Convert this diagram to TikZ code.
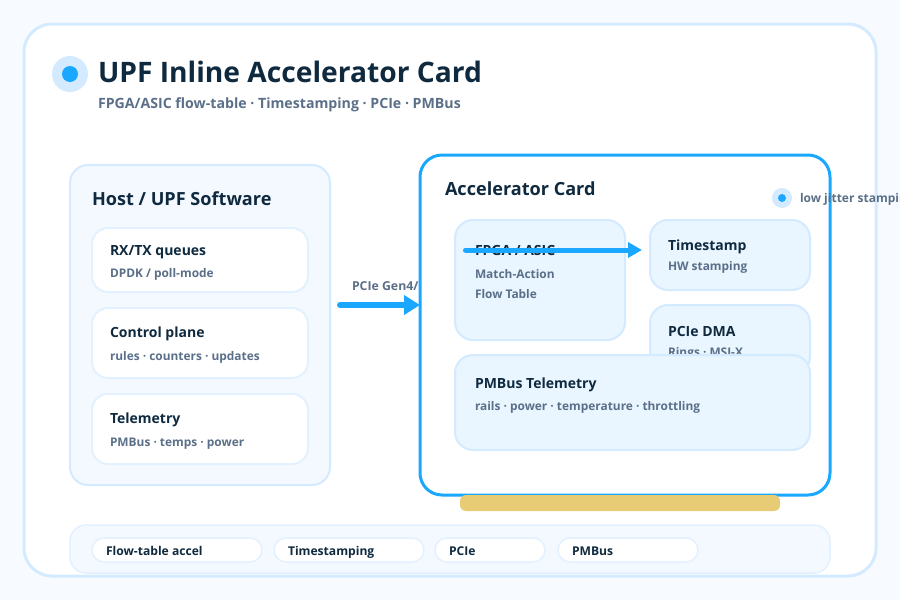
\documentclass[tikz,border=0pt]{standalone}
\usepackage{fontspec}
\setmainfont{Open Sans}
\usetikzlibrary{arrows.meta}
\definecolor{bgc}{HTML}{F7FBFF}
\definecolor{edgec}{HTML}{D4EBFF}
\definecolor{softc}{HTML}{F3F9FF}
\definecolor{paleedge}{HTML}{E3F1FF}
\definecolor{chipc}{HTML}{E9F5FF}
\definecolor{accent}{HTML}{1AA7FF}
\definecolor{ink}{HTML}{0F2A3F}
\definecolor{mute}{HTML}{5B7088}
\definecolor{gold}{HTML}{E8CC75}
\tikzset{
  panebox/.style={draw=edgec,line width=2pt,fill=softc,rounded corners=18pt,inner sep=0pt,outer sep=0pt,anchor=north west},
  whitebox/.style={draw=paleedge,line width=2pt,fill=white,rounded corners=16pt,inner sep=0pt,outer sep=0pt,anchor=north west},
  chipbox/.style={draw=edgec,line width=2pt,fill=chipc,rounded corners=18pt,inner sep=0pt,outer sep=0pt,anchor=north west},
  pillbox/.style={draw=paleedge,line width=1.5pt,fill=white,rounded corners=12pt,inner sep=0pt,outer sep=0pt,anchor=north west,minimum height=24pt},
  txtbase/.style={inner sep=0pt,outer sep=0pt,anchor=base west},
  headtxt/.style={txtbase,text=ink,font=\bfseries\fontsize{18.1}{20}\selectfont},
  nametxt/.style={txtbase,text=ink,font=\bfseries\fontsize{14}{16}\selectfont},
  subtxt/.style={txtbase,text=mute,font=\bfseries\fontsize{11.9}{14}\selectfont},
  tagtxt/.style={txtbase,text=ink,font=\bfseries\fontsize{12.1}{14}\selectfont},
  flowbig/.style={draw=accent,line width=6pt,line cap=round,-{Triangle[length=16pt,width=19pt]}},
  flowsmall/.style={draw=accent,line width=5pt,line cap=round,-{Triangle[length=14pt,width=15pt]}},
}
\begin{document}
\begin{tikzpicture}[x=1pt,y=-1pt]
\useasboundingbox (0,0) rectangle (900,600);
\clip (0,0) rectangle (900,600);
\fill[bgc] (0,0) rectangle (900,600);
\node[draw=edgec,line width=3pt,fill=white,rounded corners=28pt,inner sep=0pt,outer sep=0pt,anchor=north west,minimum width=852pt,minimum height=552pt] (frame) at (24,24) {};
\node[circle,fill=edgec,minimum size=36pt,inner sep=0pt] (halo) at (70,74) {};
\node[circle,fill=accent,minimum size=16pt,inner sep=0pt] (dot) at (70,74) {};
\node[txtbase,text=ink,font=\bfseries\fontsize{28.2}{32}\selectfont] (title) at (98,82) {UPF Inline Accelerator Card};
\node[subtxt,font=\bfseries\fontsize{14.15}{16}\selectfont] (subtitle) at (98,108) {FPGA/ASIC flow-table · Timestamping · PCIe · PMBus};

\node[panebox,minimum width=260pt,minimum height=320pt] (host) at (70,165) {};
\node[headtxt] (hosthead) at (92,205) {Host / UPF Software};
\node[whitebox,minimum width=216pt,minimum height=64pt] (rx) at (92,228) {};
\node[nametxt] (rxa) at (110,255) {RX/TX queues};
\node[subtxt] (rxb) at (110,277) {DPDK / poll-mode};
\node[whitebox,minimum width=216pt,minimum height=70pt] (ctl) at (92,308) {};
\node[nametxt] (ctla) at (110,337) {Control plane};
\node[subtxt] (ctlb) at (110,360) {rules · counters · updates};
\node[whitebox,minimum width=216pt,minimum height=70pt] (tel) at (92,394) {};
\node[nametxt] (tela) at (110,423) {Telemetry};
\node[subtxt] (telb) at (110,446) {PMBus · temps · power};

\node[draw=accent,line width=3pt,fill=white,rounded corners=22pt,inner sep=0pt,outer sep=0pt,anchor=north west,minimum width=410pt,minimum height=340pt] (card) at (420,155) {};
\node[anchor=north west,fill=gold,rounded corners=6pt,minimum width=320pt,minimum height=16pt,inner sep=0pt,outer sep=0pt] (gold) at (460,495) {};
\node[headtxt] (cardhead) at (445,195) {Accelerator Card};

\node[chipbox,minimum width=170pt,minimum height=120pt] (fpga) at (455,220) {};
\node[nametxt] (fpgaa) at (475,255) {FPGA / ASIC};
\node[subtxt] (fpgab) at (475,278) {Match-Action};
\node[subtxt] (fpgac) at (475,298) {Flow Table};
\node[chipbox,minimum width=160pt,minimum height=70pt] (ts) at (650,220) {};
\node[nametxt] (tsa) at (668,250) {Timestamp};
\node[subtxt] (tsb) at (668,270) {HW stamping};
\node[chipbox,minimum width=160pt,minimum height=70pt] (dma) at (650,305) {};
\node[nametxt] (dmaa) at (668,336) {PCIe DMA};
\node[subtxt] (dmab) at (668,356) {Rings · MSI-X};
\node[chipbox,minimum width=355pt,minimum height=95pt] (pm) at (455,355) {};
\node[nametxt] (pma) at (475,388) {PMBus Telemetry};
\node[subtxt] (pmb) at (475,410) {rails · power · temperature · throttling};

\node[circle,fill=edgec,minimum size=20pt,inner sep=0pt] (lh) at (782,198) {};
\node[circle,fill=accent,minimum size=8pt,inner sep=0pt] (ld) at (782,198) {};
\node[subtxt,font=\bfseries\fontsize{12}{14}\selectfont] (ljt) at (800,202) {low jitter stamping};

\coordinate (pcieS) at (340,305);
\coordinate (fpgaS) at (465.5,250);
\coordinate (fpgaE) at (642,250);
\draw[flowbig] (pcieS) -- (pcieS -| card.west);
\draw[flowsmall] (fpgaS) -- (fpgaE);
\node[subtxt,font=\bfseries\fontsize{12.3}{14}\selectfont] (pcielbl) at (352,290) {PCIe Gen4/};

\node[draw=paleedge,line width=1.5pt,fill=softc,rounded corners=16pt,inner sep=0pt,outer sep=0pt,anchor=north west,minimum width=760pt,minimum height=48pt] (bar) at (70,525) {};
\node[pillbox,minimum width=170pt] (p1) at (92,538) {};
\node[tagtxt] (p1t) at (106,555) {Flow-table accel};
\node[pillbox,minimum width=150pt] (p2) at (274,538) {};
\node[tagtxt] (p2t) at (288,555) {Timestamping};
\node[pillbox,minimum width=110pt] (p3) at (435,538) {};
\node[tagtxt] (p3t) at (449,555) {PCIe};
\node[pillbox,minimum width=140pt] (p4) at (558,538) {};
\node[tagtxt] (p4t) at (572,555) {PMBus};
\end{tikzpicture}
\end{document}
